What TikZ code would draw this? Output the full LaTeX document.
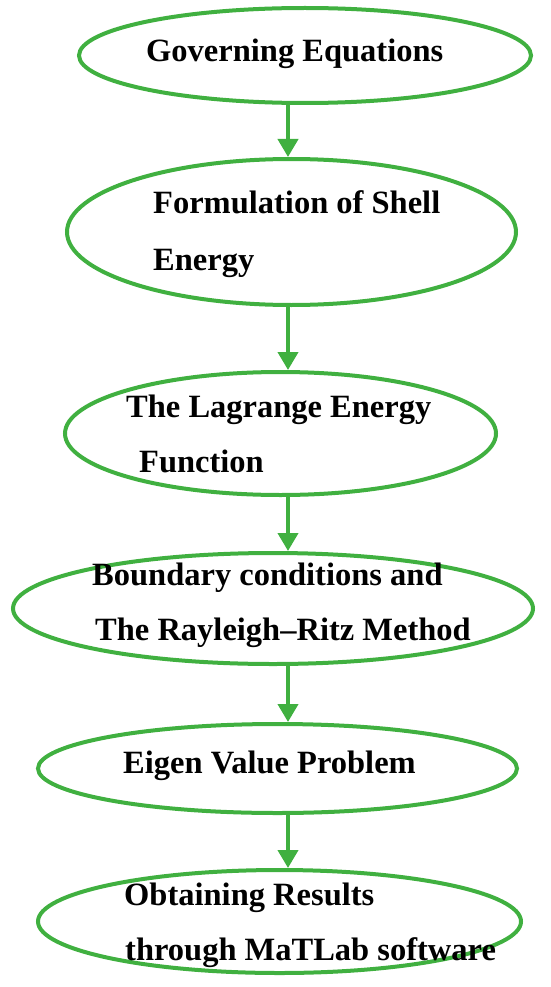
\documentclass[tikz,border=0pt]{standalone}
\usepackage{fontspec}
\setmainfont{Liberation Serif}
\usepackage{tikz}
\usepackage{xcolor}
\usetikzlibrary{arrows.meta,shapes.geometric}
\definecolor{flowgreen}{RGB}{64,176,64}

\begin{document}
\begin{tikzpicture}[x=1pt,y=-1pt,
        stage/.style={draw=flowgreen, line width=4pt, ellipse, inner sep=0pt},
        txt/.style={anchor=base west, inner sep=0pt, font=\fontsize{32.5}{40}\selectfont\bfseries},
        flow/.style={draw=flowgreen, line width=4pt, -{Triangle[width=20pt,length=18pt]}}]
                \useasboundingbox (0,0) rectangle (550,987);
                \node[stage, minimum width=452pt, minimum height=95pt] (gov) at (305,55.5) {};
                \node[stage, minimum width=449pt, minimum height=146pt] (shell) at (291.5,232) {};
                \node[stage, minimum width=431pt, minimum height=123pt] (lag) at (280.5,433.5) {};
                \node[stage, minimum width=520pt, minimum height=111pt] (bc) at (273,608.5) {};
                \node[stage, minimum width=479pt, minimum height=89pt] (eig) at (277.5,768.5) {};
                \node[stage, minimum width=483pt, minimum height=103pt] (res) at (279.5,921.5) {};
                % texts
                \node[txt] (gov1) at (146,62) {Governing Equations};
                \node[txt] (shell1) at (153,213) {Formulation of Shell};
                \node[txt] (shell2) at (153,270) {Energy};
                \node[txt] (lag1) at (126,417) {The Lagrange Energy};
                \node[txt] (lag2) at (139,472) {Function};
                \node[txt] (bc1) at (92,585) {Boundary conditions and};
                \node[txt] (bc2) at (95,640) {The Rayleigh--Ritz Method};
                \node[txt] (eig1) at (123,773) {Eigen Value Problem};
                \node[txt] (res1) at (124,905) {Obtaining Results};
                \node[txt] (res2) at (125,960) {through MaTLab software};
                % arrows
                \coordinate (axis) at (288,0);
                \draw[flow] (gov.south -| axis) -- (shell.north -| axis);
                \draw[flow] (shell.south -| axis) -- (lag.north -| axis);
                \draw[flow] (lag.south -| axis) -- (bc.north -| axis);
                \draw[flow] (bc.south -| axis) -- (eig.north -| axis);
                \draw[flow] (eig.south -| axis) -- (res.north -| axis);
\end{tikzpicture}
\end{document}
